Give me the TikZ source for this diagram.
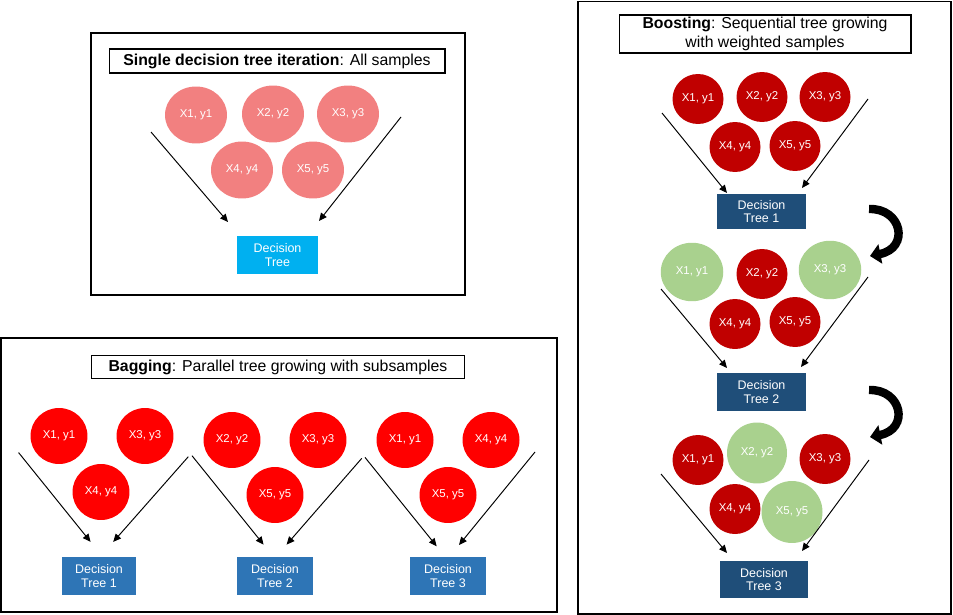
\documentclass[tikz,border=0pt]{standalone}
\usepackage{fontspec}
\setmainfont{Liberation Sans}
\usetikzlibrary{shapes.geometric,arrows.meta}
\definecolor{salmon}{RGB}{242,128,128}
\definecolor{bagred}{RGB}{255,0,0}
\definecolor{darkred}{RGB}{192,0,0}
\definecolor{lgreen}{RGB}{169,209,142}
\definecolor{skyblue}{RGB}{0,176,240}
\definecolor{midblue}{RGB}{46,117,182}
\definecolor{navyblue}{RGB}{31,78,121}
\begin{document}
\begin{tikzpicture}[x=0.02cm,y=-0.02cm,
 panel/.style={draw=black,line width=0.85pt},
 titlebox/.style={draw=black,line width=0.6pt,inner sep=0pt,align=center,font=\fontsize{9}{10.4}\selectfont},
 sample/.style={ellipse,inner sep=0pt,text=white,font=\fontsize{6.5}{7}\selectfont},
 salm/.style={sample,fill=salmon,minimum width=1.24cm,minimum height=1.14cm},
 bag/.style={sample,fill=bagred,minimum width=1.14cm,minimum height=1.12cm},
 dred/.style={sample,fill=darkred,minimum width=1.02cm,minimum height=1.0cm},
 grn/.style={sample,fill=lgreen,minimum width=1.25cm,minimum height=1.17cm},
 dtree/.style={rectangle,inner sep=0pt,text=white,align=center,font=\fontsize{7.1}{7.6}\selectfont},
 feed/.style={-{Triangle[length=4.5pt,width=4pt]},line width=0.55pt},
 bendarrow/.style={-{Triangle[length=6pt,width=11pt]},line width=4.8pt}
]
\useasboundingbox (0,0) rectangle (953,615);
\fill[white] (0,0) rectangle (953,615);

% ---------- Panel 1: single tree ----------
\draw[panel] (91,33) rectangle (465,295);
\node[titlebox,minimum width=6.72cm,minimum height=0.48cm] (t1) at (277,61) {\textbf{Single decision tree iteration}: All samples};
\node[salm] (a1) at (196,115) {X1, y1};
\node[salm] (a2) at (273,114) {X2, y2};
\node[salm] (a3) at (348,114) {X3, y3};
\node[salm] (a4) at (242,170) {X4, y4};
\node[salm] (a5) at (313,170) {X5, y5};
\node[dtree,fill=skyblue,minimum width=1.62cm,minimum height=0.76cm] (d0) at (277.5,255) {Decision\\Tree};
\coordinate (a0ls) at (151,132); \coordinate (a0le) at (228,222);
\coordinate (a0rs) at (401,117); \coordinate (a0re) at (319,221);
\draw[feed] (a0ls) -- (a0le);
\draw[feed] (a0rs) -- (a0re);

% ---------- Panel 2: bagging ----------
\draw[panel] (1,338) rectangle (557,612);
\node[titlebox,minimum width=7.47cm,minimum height=0.446cm] (t2) at (278,367) {\textbf{Bagging}: Parallel tree growing with subsamples};
\node[bag] (b11) at (59,436) {X1, y1};
\node[bag] (b13) at (145,436) {X3, y3};
\node[bag] (b14) at (101,492) {X4, y4};
\node[bag] (b22) at (232,440) {X2, y2};
\node[bag] (b23) at (318,440) {X3, y3};
\node[bag] (b25) at (275,495) {X5, y5};
\node[bag] (b31) at (405,440) {X1, y1};
\node[bag] (b34) at (491,440) {X4, y4};
\node[bag] (b35) at (448,495) {X5, y5};
\node[dtree,fill=midblue,minimum width=1.49cm,minimum height=0.766cm] (bd1) at (99,576) {Decision\\Tree 1};
\node[dtree,fill=midblue,minimum width=1.51cm,minimum height=0.766cm] (bd2) at (275,576) {Decision\\Tree 2};
\node[dtree,fill=midblue,minimum width=1.51cm,minimum height=0.766cm] (bd3) at (448,576) {Decision\\Tree 3};
\coordinate (g1ls) at (18.6,452.6); \coordinate (g1le) at (90.6,541.9);
\coordinate (g1rs) at (188.3,456.7); \coordinate (g1re) at (113.2,541.9);
\coordinate (g2ls) at (192,455.7); \coordinate (g2le) at (263.6,544.6);
\coordinate (g2rs) at (361.7,458.4); \coordinate (g2re) at (286.6,544.6);
\coordinate (g3ls) at (365,457.4); \coordinate (g3le) at (436.7,546.3);
\coordinate (g3rs) at (535,452); \coordinate (g3re) at (459,545);
\draw[feed] (g1ls) -- (g1le);
\draw[feed] (g1rs) -- (g1re);
\draw[feed] (g2ls) -- (g2le);
\draw[feed] (g2rs) -- (g2re);
\draw[feed] (g3ls) -- (g3le);
\draw[feed] (g3rs) -- (g3re);

% ---------- Panel 3: boosting ----------
\draw[panel] (578,1.5) rectangle (951,614);
\node[titlebox,minimum width=5.84cm,minimum height=0.76cm] (t3) at (765,34) {\textbf{Boosting}: Sequential tree growing\\with weighted samples};
% row 1
\node[dred] (r11) at (698,99) {X1, y1};
\node[dred] (r12) at (762,97) {X2, y2};
\node[dred] (r13) at (825,97) {X3, y3};
\node[dred] (r14) at (735,147) {X4, y4};
\node[dred] (r15) at (795,146) {X5, y5};
% row 2
\node[dred] (r22) at (762,274) {X2, y2};
\node[dred] (r24) at (735,324) {X4, y4};
\node[dred] (r25) at (795,322) {X5, y5};
\node[grn] (r21) at (692,272) {X1, y1};
\node[grn] (r23) at (830,270) {X3, y3};
% row 3
\node[dred] (r31) at (698,460) {X1, y1};
\node[dred] (r33) at (825,459) {X3, y3};
\node[dred] (r34) at (735,509) {X4, y4};
\node[grn,minimum width=1.2cm,minimum height=1.22cm] (r32) at (757,453) {X2, y2};
\node[grn,minimum width=1.22cm,minimum height=1.24cm] (r35) at (792,512) {X5, y5};

\coordinate (k1ls) at (662,113); \coordinate (k1le) at (727,193);
\coordinate (k1rs) at (868,99);  \coordinate (k1re) at (802,188);
\coordinate (k2ls) at (661,289); \coordinate (k2le) at (727,368);
\coordinate (k2rs) at (868,277); \coordinate (k2re) at (801,367);
\coordinate (k3ls) at (661,474); \coordinate (k3le) at (727,553);
\coordinate (k3rs) at (869,460); \coordinate (k3re) at (802,551);
\draw[feed] (k1ls) -- (k1le);
\draw[feed] (k1rs) -- (k1re);
\draw[feed] (k2ls) -- (k2le);
\draw[feed] (k2rs) -- (k2re);
\draw[feed] (k3ls) -- (k3le);
\draw[feed] (k3rs) -- (k3re);

\node[dtree,fill=navyblue,minimum width=1.766cm,minimum height=0.706cm] (kd1) at (761.5,211.5) {Decision\\Tree 1};
\node[dtree,fill=navyblue,minimum width=1.766cm,minimum height=0.746cm] (kd2) at (761.5,392) {Decision\\Tree 2};
\node[dtree,fill=navyblue,minimum width=1.766cm,minimum height=0.734cm] (kd3) at (764,579.3) {Decision\\Tree 3};

% curved arrows
\coordinate (c1s) at (869,209); \coordinate (c1e) at (870,256);
\coordinate (c2s) at (869,390); \coordinate (c2e) at (870,437);
\draw[bendarrow] (c1s) .. controls (902,208) and (910,248) .. (c1e);
\draw[bendarrow] (c2s) .. controls (902,389) and (910,429) .. (c2e);
\end{tikzpicture}
\end{document}
